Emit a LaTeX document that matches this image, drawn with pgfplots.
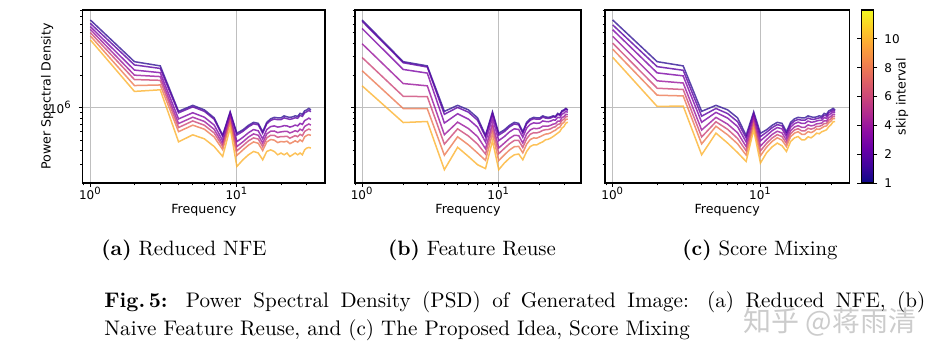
\documentclass[border=0pt]{standalone}
\usepackage{fontspec}
\usepackage{pgfplots}
\pgfplotsset{compat=1.18}
\usepackage{pgfplotstable}
\newfontfamily\dejavu{DejaVu Sans}
\newfontfamily\cjk{Noto Sans CJK SC}

\definecolor{c1}{RGB}{50,20,150}
\definecolor{c2}{RGB}{92,1,164}
\definecolor{c3}{RGB}{125,7,166}
\definecolor{c4}{RGB}{154,23,157}
\definecolor{c5}{RGB}{204,71,120}
\definecolor{c6}{RGB}{236,121,83}
\definecolor{c7}{RGB}{252,179,48}

\pgfplotstableread{
f s1 s2 s3 s4 s5 s6 s7
1 6.53e6 6.07e6 5.67e6 5.34e6 4.99e6 4.65e6 4.27e6
2 2.68e6 2.50e6 2.24e6 2.01e6 1.83e6 1.61e6 1.42e6
3 2.45e6 2.32e6 2.12e6 1.95e6 1.80e6 1.63e6 1.47e6
4 0.928e6 0.899e6 0.789e6 0.715e6 0.657e6 0.601e6 0.484e6
5 1.055e6 1.022e6 0.901e6 0.819e6 0.756e6 0.691e6 0.562e6
6 0.958e6 0.928e6 0.819e6 0.748e6 0.690e6 0.634e6 0.516e6
7 0.808e6 0.784e6 0.693e6 0.632e6 0.585e6 0.537e6 0.438e6
8 0.556e6 0.544e6 0.497e6 0.464e6 0.438e6 0.410e6 0.354e6
9 0.918e6 0.903e6 0.843e6 0.801e6 0.766e6 0.731e6 0.653e6
10 0.581e6 0.560e6 0.486e6 0.437e6 0.399e6 0.362e6 0.286e6
11 0.626e6 0.606e6 0.533e6 0.484e6 0.446e6 0.407e6 0.330e6
12 0.689e6 0.667e6 0.588e6 0.536e6 0.494e6 0.451e6 0.367e6
13 0.734e6 0.711e6 0.629e6 0.573e6 0.527e6 0.483e6 0.394e6
14 0.718e6 0.696e6 0.612e6 0.557e6 0.513e6 0.469e6 0.381e6
15 0.600e6 0.582e6 0.516e6 0.472e6 0.437e6 0.402e6 0.330e6
16 0.734e6 0.711e6 0.629e6 0.573e6 0.527e6 0.483e6 0.394e6
17 0.791e6 0.764e6 0.670e6 0.607e6 0.557e6 0.508e6 0.408e6
18 0.816e6 0.788e6 0.680e6 0.610e6 0.556e6 0.502e6 0.394e6
19 0.808e6 0.776e6 0.663e6 0.589e6 0.533e6 0.476e6 0.367e6
20 0.808e6 0.777e6 0.670e6 0.599e6 0.542e6 0.487e6 0.381e6
21 0.843e6 0.808e6 0.684e6 0.604e6 0.542e6 0.483e6 0.367e6
22 0.825e6 0.794e6 0.680e6 0.606e6 0.545e6 0.491e6 0.381e6
23 0.816e6 0.782e6 0.663e6 0.585e6 0.523e6 0.466e6 0.354e6
24 0.825e6 0.793e6 0.674e6 0.598e6 0.538e6 0.479e6 0.367e6
25 0.843e6 0.810e6 0.692e6 0.614e6 0.553e6 0.495e6 0.381e6
26 0.834e6 0.801e6 0.680e6 0.601e6 0.540e6 0.481e6 0.367e6
27 0.889e6 0.852e6 0.718e6 0.634e6 0.568e6 0.504e6 0.381e6
28 0.870e6 0.834e6 0.702e6 0.616e6 0.551e6 0.488e6 0.367e6
29 0.938e6 0.899e6 0.761e6 0.672e6 0.604e6 0.538e6 0.408e6
30 0.958e6 0.920e6 0.781e6 0.692e6 0.622e6 0.555e6 0.424e6
31 0.989e6 0.948e6 0.803e6 0.708e6 0.636e6 0.565e6 0.429e6
32 0.958e6 0.920e6 0.781e6 0.692e6 0.622e6 0.555e6 0.424e6
}\tA

\pgfplotstableread{
f s1 s2 s3 s4 s5 s6 s7
1 6.53e6 6.35e6 5.44e6 3.93e6 2.93e6 2.21e6 1.60e6
2 2.68e6 2.62e6 2.27e6 1.68e6 1.28e6 0.985e6 0.731e6
3 2.45e6 2.39e6 2.10e6 1.60e6 1.27e6 0.981e6 0.747e6
4 0.928e6 0.872e6 0.723e6 0.564e6 0.461e6 0.364e6 0.267e6
5 1.055e6 1.009e6 0.882e6 0.737e6 0.639e6 0.539e6 0.431e6
6 0.958e6 0.912e6 0.786e6 0.643e6 0.548e6 0.454e6 0.354e6
7 0.808e6 0.768e6 0.662e6 0.541e6 0.461e6 0.381e6 0.297e6
8 0.556e6 0.537e6 0.482e6 0.418e6 0.373e6 0.326e6 0.273e6
9 0.918e6 0.889e6 0.811e6 0.717e6 0.650e6 0.577e6 0.495e6
10 0.581e6 0.559e6 0.497e6 0.425e6 0.376e6 0.324e6 0.267e6
11 0.626e6 0.603e6 0.542e6 0.472e6 0.421e6 0.367e6 0.308e6
12 0.689e6 0.666e6 0.599e6 0.521e6 0.465e6 0.407e6 0.342e6
13 0.734e6 0.709e6 0.639e6 0.556e6 0.498e6 0.436e6 0.367e6
14 0.718e6 0.696e6 0.630e6 0.553e6 0.498e6 0.439e6 0.373e6
15 0.600e6 0.582e6 0.533e6 0.472e6 0.429e6 0.383e6 0.330e6
16 0.734e6 0.711e6 0.649e6 0.572e6 0.517e6 0.460e6 0.394e6
17 0.791e6 0.768e6 0.703e6 0.624e6 0.569e6 0.508e6 0.438e6
18 0.816e6 0.793e6 0.726e6 0.646e6 0.588e6 0.526e6 0.454e6
19 0.808e6 0.784e6 0.719e6 0.641e6 0.586e6 0.524e6 0.454e6
20 0.808e6 0.786e6 0.724e6 0.651e6 0.598e6 0.539e6 0.471e6
21 0.843e6 0.819e6 0.756e6 0.676e6 0.618e6 0.556e6 0.484e6
22 0.825e6 0.804e6 0.748e6 0.678e6 0.627e6 0.571e6 0.506e6
23 0.816e6 0.797e6 0.743e6 0.677e6 0.629e6 0.575e6 0.511e6
24 0.825e6 0.806e6 0.754e6 0.689e6 0.640e6 0.587e6 0.524e6
25 0.843e6 0.825e6 0.772e6 0.706e6 0.659e6 0.606e6 0.542e6
26 0.834e6 0.818e6 0.771e6 0.713e6 0.668e6 0.620e6 0.562e6
27 0.889e6 0.870e6 0.816e6 0.752e6 0.702e6 0.647e6 0.583e6
28 0.870e6 0.854e6 0.810e6 0.752e6 0.709e6 0.662e6 0.603e6
29 0.938e6 0.920e6 0.870e6 0.810e6 0.763e6 0.711e6 0.649e6
30 0.958e6 0.942e6 0.893e6 0.830e6 0.784e6 0.734e6 0.671e6
31 0.989e6 0.975e6 0.928e6 0.872e6 0.828e6 0.781e6 0.721e6
32 0.958e6 0.946e6 0.908e6 0.863e6 0.827e6 0.788e6 0.737e6
}\tB

\pgfplotstableread{
f s1 s2 s3 s4 s5 s6 s7
1 6.53e6 5.88e6 5.30e6 4.60e6 3.98e6 3.50e6 2.94e6
2 2.68e6 2.41e6 2.11e6 1.78e6 1.52e6 1.31e6 1.03e6
3 2.45e6 2.23e6 1.98e6 1.70e6 1.48e6 1.29e6 1.04e6
4 0.928e6 0.837e6 0.735e6 0.623e6 0.537e6 0.463e6 0.367e6
5 1.055e6 0.987e6 0.908e6 0.816e6 0.743e6 0.675e6 0.583e6
6 0.958e6 0.884e6 0.803e6 0.706e6 0.632e6 0.562e6 0.471e6
7 0.808e6 0.745e6 0.671e6 0.588e6 0.521e6 0.464e6 0.385e6
8 0.556e6 0.526e6 0.483e6 0.437e6 0.400e6 0.365e6 0.318e6
9 0.918e6 0.880e6 0.834e6 0.779e6 0.733e6 0.689e6 0.626e6
10 0.581e6 0.541e6 0.495e6 0.442e6 0.399e6 0.360e6 0.308e6
11 0.626e6 0.594e6 0.553e6 0.507e6 0.468e6 0.432e6 0.383e6
12 0.689e6 0.655e6 0.614e6 0.566e6 0.525e6 0.489e6 0.435e6
13 0.734e6 0.699e6 0.657e6 0.607e6 0.565e6 0.528e6 0.471e6
14 0.718e6 0.681e6 0.638e6 0.585e6 0.541e6 0.502e6 0.445e6
15 0.600e6 0.573e6 0.540e6 0.501e6 0.468e6 0.437e6 0.394e6
16 0.734e6 0.702e6 0.663e6 0.615e6 0.577e6 0.540e6 0.487e6
17 0.791e6 0.756e6 0.714e6 0.664e6 0.623e6 0.583e6 0.527e6
18 0.816e6 0.781e6 0.737e6 0.684e6 0.641e6 0.601e6 0.542e6
19 0.808e6 0.768e6 0.718e6 0.660e6 0.612e6 0.569e6 0.506e6
20 0.808e6 0.768e6 0.718e6 0.660e6 0.612e6 0.569e6 0.506e6
21 0.843e6 0.803e6 0.754e6 0.696e6 0.647e6 0.602e6 0.539e6
22 0.825e6 0.786e6 0.737e6 0.681e6 0.634e6 0.589e6 0.527e6
23 0.816e6 0.782e6 0.740e6 0.689e6 0.647e6 0.607e6 0.551e6
24 0.825e6 0.794e6 0.756e6 0.711e6 0.673e6 0.637e6 0.583e6
25 0.843e6 0.808e6 0.766e6 0.715e6 0.673e6 0.632e6 0.575e6
26 0.834e6 0.804e6 0.768e6 0.723e6 0.688e6 0.651e6 0.600e6
27 0.889e6 0.854e6 0.810e6 0.758e6 0.714e6 0.673e6 0.612e6
28 0.870e6 0.840e6 0.801e6 0.755e6 0.717e6 0.680e6 0.626e6
29 0.938e6 0.903e6 0.861e6 0.810e6 0.768e6 0.726e6 0.667e6
30 0.958e6 0.924e6 0.884e6 0.834e6 0.793e6 0.754e6 0.696e6
31 0.989e6 0.958e6 0.920e6 0.874e6 0.834e6 0.797e6 0.742e6
32 0.958e6 0.931e6 0.901e6 0.861e6 0.827e6 0.794e6 0.747e6
}\tC

\begin{document}
\begin{tikzpicture}
\useasboundingbox (0,0) rectangle (469.5pt,-179pt);

\begin{axis}[
    xmode=log, ymode=log, scale only axis, height=86.5pt, width=121.2pt,
    at={(41.35pt,-5pt)}, anchor=north west,
    xmin=0.887, xmax=40, ymin=2.01e5, ymax=8.08e6,
    xtick={1,10}, xticklabels={10\textsuperscript{0},10\textsuperscript{1}},
    minor xtick={0.9,2,3,4,5,6,7,8,9,20,30},
    ytick={1e6}, yticklabels={10\textsuperscript{6}},
    minor ytick={3e5,4e5,5e5,6e5,7e5,8e5,9e5,2e6,3e6,4e6,5e6,6e6,7e6,8e6},
    tick pos=left, tick align=outside,
    major tick length=2pt, minor tick length=1.2pt,
    every tick/.style={black, line width=0.4pt},
    xmajorgrids, ymajorgrids, grid style={gray!50, line width=0.55pt},
    axis line style={black, line width=0.6pt},
    tick label style={font=\dejavu\fontsize{6}{7}\selectfont},
    xticklabel style={yshift=3.5pt},
    label style={font=\dejavu\fontsize{6.3}{7.5}\selectfont},
    xlabel={Frequency}, ylabel={Power Spectral Density},
    xlabel style={at={(axis description cs:0.5,-0.156)}, anchor=center},
    ylabel style={at={(axis description cs:-0.147,0.5)}, anchor=center},
    every axis plot/.append style={line width=0.75pt, mark=none, opacity=0.8},
  ]
\addplot[c1] table[x=f,y=s1]{\tA};
\addplot[c2] table[x=f,y=s2]{\tA};
\addplot[c3] table[x=f,y=s3]{\tA};
\addplot[c4] table[x=f,y=s4]{\tA};
\addplot[c5] table[x=f,y=s5]{\tA};
\addplot[c6] table[x=f,y=s6]{\tA};
\addplot[c7] table[x=f,y=s7]{\tA};
\end{axis}

\begin{axis}[
    xmode=log, ymode=log, scale only axis, height=86.5pt, width=113pt,
    at={(177.5pt,-5pt)}, anchor=north west,
    xmin=0.887, xmax=40, ymin=2.01e5, ymax=8.08e6,
    xtick={1,10}, xticklabels={10\textsuperscript{0},10\textsuperscript{1}},
    minor xtick={0.9,2,3,4,5,6,7,8,9,20,30},
    ytick={1e6}, yticklabels={},
    minor ytick={3e5,4e5,5e5,6e5,7e5,8e5,9e5,2e6,3e6,4e6,5e6,6e6,7e6,8e6},
    tick pos=left, tick align=outside,
    major tick length=2pt, minor tick length=1.2pt,
    every tick/.style={black, line width=0.4pt},
    xmajorgrids, ymajorgrids, grid style={gray!50, line width=0.55pt},
    axis line style={black, line width=0.6pt},
    tick label style={font=\dejavu\fontsize{6}{7}\selectfont},
    xticklabel style={yshift=3.5pt},
    label style={font=\dejavu\fontsize{6.3}{7.5}\selectfont},
    xlabel={Frequency},
    xlabel style={at={(axis description cs:0.5,-0.156)}, anchor=center},
    every axis plot/.append style={line width=0.75pt, mark=none, opacity=0.8},
  ]
\addplot[c1] table[x=f,y=s1]{\tB};
\addplot[c2] table[x=f,y=s2]{\tB};
\addplot[c3] table[x=f,y=s3]{\tB};
\addplot[c4] table[x=f,y=s4]{\tB};
\addplot[c5] table[x=f,y=s5]{\tB};
\addplot[c6] table[x=f,y=s6]{\tB};
\addplot[c7] table[x=f,y=s7]{\tB};
\end{axis}

\begin{axis}[
    xmode=log, ymode=log, scale only axis, height=86.5pt, width=122.2pt,
    at={(302.5pt,-5pt)}, anchor=north west,
    xmin=0.887, xmax=40, ymin=2.01e5, ymax=8.08e6,
    xtick={1,10}, xticklabels={10\textsuperscript{0},10\textsuperscript{1}},
    minor xtick={0.9,2,3,4,5,6,7,8,9,20,30},
    ytick={1e6}, yticklabels={},
    minor ytick={3e5,4e5,5e5,6e5,7e5,8e5,9e5,2e6,3e6,4e6,5e6,6e6,7e6,8e6},
    tick pos=left, tick align=outside,
    major tick length=2pt, minor tick length=1.2pt,
    every tick/.style={black, line width=0.4pt},
    xmajorgrids, ymajorgrids, grid style={gray!50, line width=0.55pt},
    axis line style={black, line width=0.6pt},
    tick label style={font=\dejavu\fontsize{6}{7}\selectfont},
    xticklabel style={yshift=3.5pt},
    label style={font=\dejavu\fontsize{6.3}{7.5}\selectfont},
    xlabel={Frequency},
    xlabel style={at={(axis description cs:0.5,-0.156)}, anchor=center},
    every axis plot/.append style={line width=0.75pt, mark=none, opacity=0.8},
    colormap={plasma}{rgb255=(13,8,135) rgb255=(65,4,157) rgb255=(106,0,168)
      rgb255=(143,13,164) rgb255=(177,42,144) rgb255=(204,71,120)
      rgb255=(225,100,98) rgb255=(242,132,75) rgb255=(252,166,54)
      rgb255=(252,206,37) rgb255=(240,249,33)},
    point meta min=0, point meta max=12,
    colorbar,
    colorbar style={width=6pt, at={(1.049,1)}, anchor=north west,
      ytick={0,2,4,6,8,10}, yticklabels={1,2,4,6,8,10},
      tick align=outside, major tick length=2pt,
      axis line style={black, line width=0.6pt},
      tick label style={font=\dejavu\fontsize{6}{7}\selectfont},
      ylabel={skip interval},
      ylabel style={font=\dejavu\fontsize{6.3}{7.5}\selectfont,
        at={(axis description cs:3.4,0.5)}, anchor=center},
    },
  ]
\addplot[c1] table[x=f,y=s1]{\tC};
\addplot[c2] table[x=f,y=s2]{\tC};
\addplot[c3] table[x=f,y=s3]{\tC};
\addplot[c4] table[x=f,y=s4]{\tC};
\addplot[c5] table[x=f,y=s5]{\tC};
\addplot[c6] table[x=f,y=s6]{\tC};
\addplot[c7] table[x=f,y=s7]{\tC};
\end{axis}

\node[font=\fontsize{10.4}{12}\selectfont] at (92pt,-125pt) {\textbf{(a)} Reduced NFE};
\node[font=\fontsize{10.4}{12}\selectfont] at (236pt,-125pt) {\textbf{(b)} Feature Reuse};
\node[font=\fontsize{10.4}{12}\selectfont] at (380pt,-125pt) {\textbf{(c)} Score Mixing};

\node[text=gray!40, font=\cjk\fontsize{14}{16}\selectfont] at (415pt,-161pt) {知乎 @蒋雨清};

\node[anchor=west, inner sep=0pt, font=\fontsize{10.55}{13}\selectfont] at (52pt,-151pt)
  {\makebox[410.5pt][s]{\textbf{Fig.\,5:} Power Spectral Density (PSD) of Generated Image: (a) Reduced NFE, (b)}};
\node[anchor=west, inner sep=0pt, font=\fontsize{10.55}{13}\selectfont] at (52pt,-165pt)
  {Naive Feature Reuse, and (c) The Proposed Idea, Score Mixing};
\end{tikzpicture}
\end{document}
